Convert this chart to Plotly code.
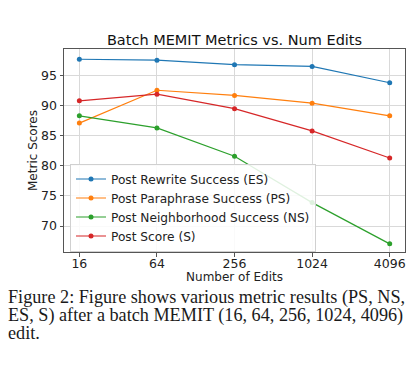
import plotly.graph_objects as go

num_edits = [16, 64, 256, 1024, 4096]
tick_labels = ["16", "64", "256", "1024", "4096"]
es_scores = [97.7, 97.55, 96.8, 96.5, 93.8]
ps_scores = [87.1, 92.55, 91.7, 90.4, 88.3]
ns_scores = [88.3, 86.3, 81.6, 73.9, 67.05]
s_scores = [90.8, 91.9, 89.5, 85.8, 81.3]

series_names = [
    "Post Rewrite Success (ES)",
    "Post Paraphrase Success (PS)",
    "Post Neighborhood Success (NS)",
    "Post Score (S)",
]
series_values = [es_scores, ps_scores, ns_scores, s_scores]
colors = ["#1f77b4", "#ff7f0e", "#2ca02c", "#d62728"]

caption_lines = [
    "Figure 2: Figure shows various metric results (PS, NS,",
    "ES, S) after a batch MEMIT (16, 64, 256, 1024, 4096)",
    "edit.",
]

# page body has an 8px margin; compensate so the picture lines up
OFF = 8
W, H = 414 - OFF, 368 - OFF
L, T, R, B = 64 - OFF, 49 - OFF, 9, 116
PW = W - L - R
PH = H - T - B

fig = go.Figure()
for name, vals, c in zip(series_names, series_values, colors):
    fig.add_trace(go.Scatter(
        x=num_edits, y=vals, name=name, mode="lines+markers",
        line=dict(color=c, width=1.2),
        marker=dict(color=c, size=5),
    ))

font_main = "DejaVu Sans, sans-serif"
fig.update_layout(
    width=W, height=H,
    margin=dict(l=L, r=R, t=T, b=B, autoexpand=False),
    paper_bgcolor="white", plot_bgcolor="white",
    font=dict(family=font_main, size=12, color="#222"),
    title=dict(text="Batch MEMIT Metrics vs. Num Edits", x=(L + PW / 2) / W,
               xanchor="center", y=1 - (40 - OFF) / H, yanchor="middle",
               font=dict(size=14.5, color="#111")),
    showlegend=True,
    legend=dict(x=6 / PW, y=0.5 / PH, xanchor="left", yanchor="bottom",
                bgcolor="rgba(255,255,255,0.85)", bordercolor="#d0d0d0", borderwidth=1,
                font=dict(size=12.2, color="#222"), tracegroupgap=0,
                itemwidth=30),
)
fig.update_xaxes(
    type="log", range=[1.085, 3.731],
    tickvals=num_edits, ticktext=tick_labels,
    showgrid=True, gridcolor="#d9d9d9", gridwidth=1,
    showline=True, linecolor="#555", linewidth=1, mirror=True,
    ticks="outside", ticklen=3.5, tickcolor="#555",
    tickfont=dict(size=12.5), ticklabelstandoff=-4,
    title=dict(text="Number of Edits", font=dict(size=12), standoff=0),
    zeroline=False, automargin=False,
)
fig.update_yaxes(
    range=[65.7, 99.4],
    tickvals=[70, 75, 80, 85, 90, 95],
    showgrid=True, gridcolor="#d9d9d9", gridwidth=1,
    showline=True, linecolor="#555", linewidth=1, mirror=True,
    ticks="outside", ticklen=3.5, tickcolor="#555",
    tickfont=dict(size=12.5),
    title=dict(text="Metric Scores", font=dict(size=12), standoff=0),
    zeroline=False, automargin=False,
)

line_y = [297, 315, 333]
for txt, py in zip(caption_lines, line_y):
    fig.add_annotation(
        text=txt, xref="paper", yref="paper",
        x=(6 - 64) / PW, y=0, yshift=-(py - 252), xanchor="left", yanchor="middle",
        showarrow=False,
        font=dict(family="Liberation Serif, Times New Roman, serif", size=18.2, color="#1a1a1a"),
    )

fig.write_html("out.html")
